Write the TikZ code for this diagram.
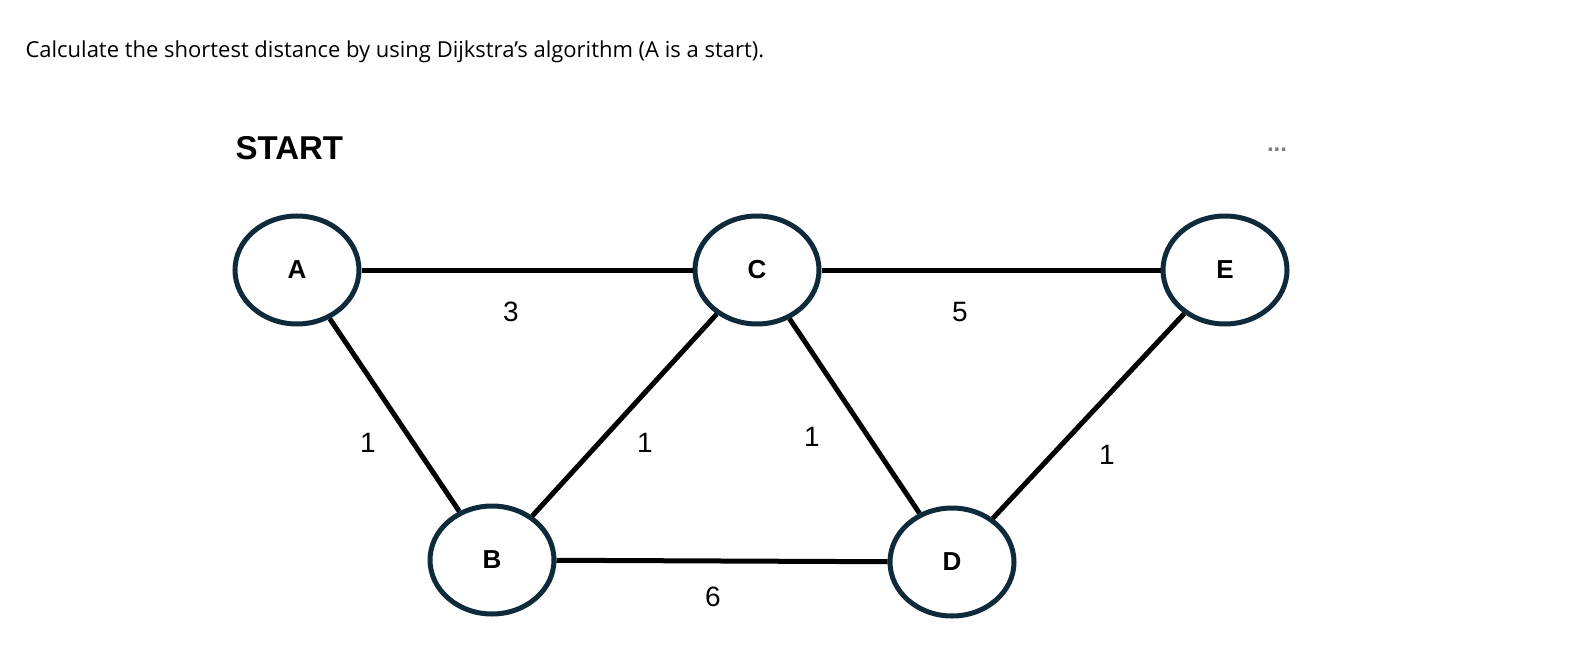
\documentclass[tikz,border=0pt]{standalone}
\usepackage{fontspec}
\setmainfont{Open Sans}
\newfontfamily\arial{Liberation Sans}
\usetikzlibrary{shapes.geometric}
\definecolor{navy}{HTML}{0F2A3B}
\begin{document}
\begin{tikzpicture}[x=1pt,y=-1pt,
  vert/.style={ellipse,draw=navy,line width=5pt,minimum width=124pt,minimum height=108pt,font=\arial\bfseries\fontsize{26}{26}\selectfont,fill=white},
  edge/.style={line width=5pt,black},
  wt/.style={font=\arial\fontsize{28}{28}\selectfont}]
\useasboundingbox (0,0) rectangle (1577,650);
\node[anchor=base west,font=\fontsize{22}{22}\selectfont] (t) at (22,58) {Calculate the shortest distance by using Dijkstra's algorithm (A is a start).};
\node[anchor=base west,font=\arial\bfseries\fontsize{33}{33}\selectfont] (s) at (232,160) {START};
\node[font=\arial\bfseries\fontsize{24}{24}\selectfont,text=gray] (dots) at (1277,150) {...};
\node[vert] (A) at (297,270) {A};
\node[vert] (B) at (492,560) {B};
\node[vert] (C) at (757,270) {C};
\node[vert] (D) at (952,562) {D};
\node[vert] (E) at (1225,270) {E};
\draw[edge] (A) -- (C);
\draw[edge] (C) -- (E);
\draw[edge] (A) -- (B);
\draw[edge] (B) -- (C);
\draw[edge] (C) -- (D);
\draw[edge] (D) -- (E);
\draw[edge] (B) -- (D);
\node[wt] (w1) at (511,312) {3};
\node[wt] (w2) at (960,312) {5};
\node[wt] (w3) at (368,443) {1};
\node[wt] (w4) at (645,443) {1};
\node[wt] (w5) at (812,437) {1};
\node[wt] (w6) at (1107,455) {1};
\node[wt] (w7) at (713,597) {6};
\end{tikzpicture}
\end{document}
